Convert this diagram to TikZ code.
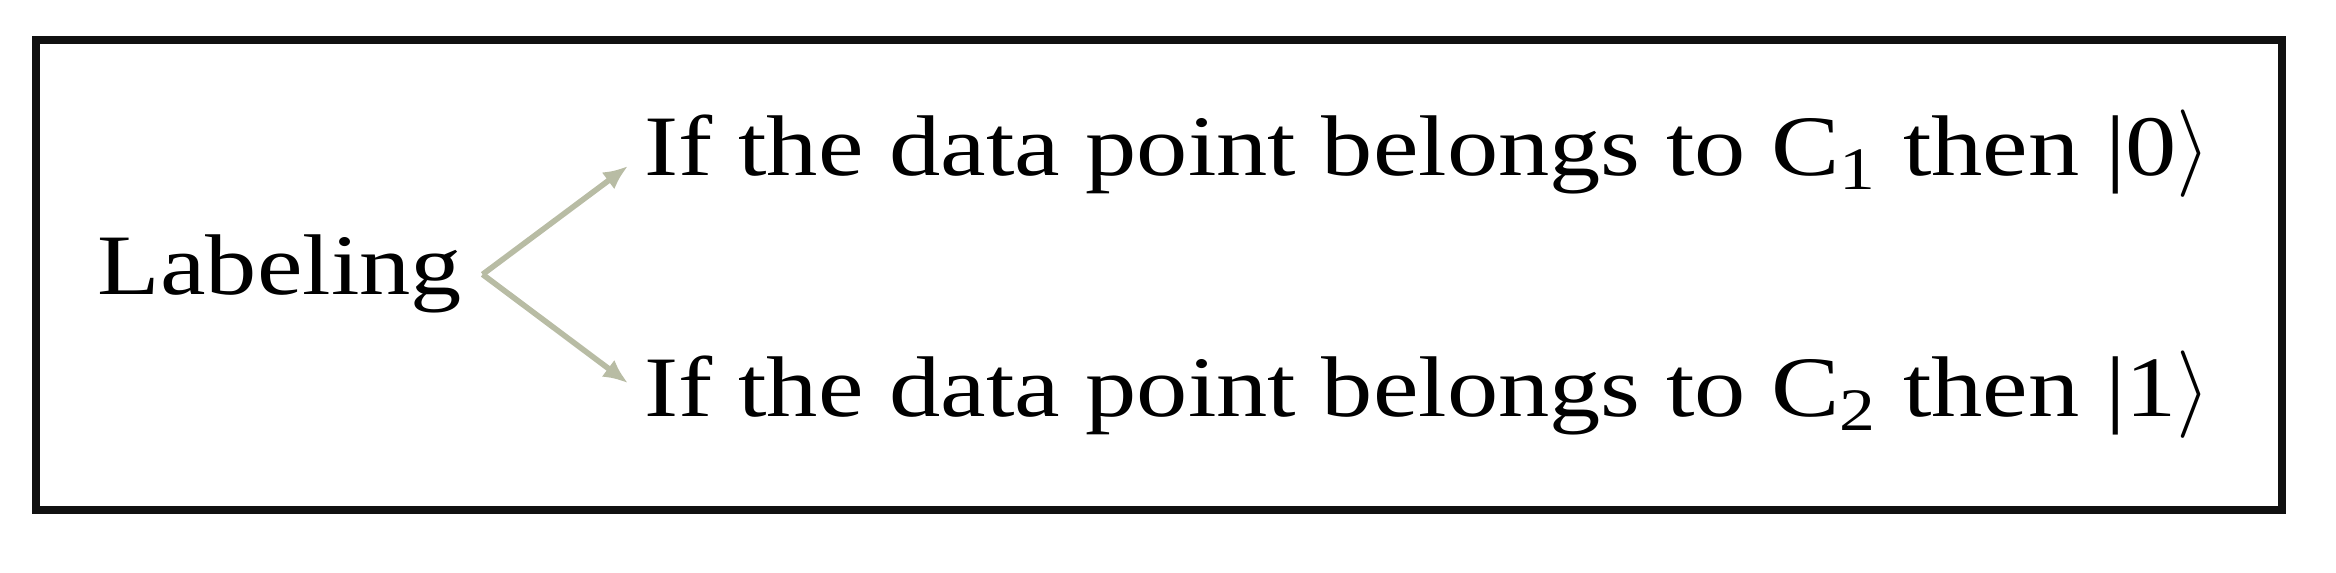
\documentclass[tikz,border=0pt]{standalone}
\usepackage{fontspec}
\setmainfont[FakeStretch=1.19]{Liberation Serif}
\usetikzlibrary{arrows.meta, positioning, calc}
\definecolor{frameBlack}{HTML}{111111}
\definecolor{branchGray}{HTML}{B8BCA4}
\newcommand{\KetState}[1]{\textbar#1$\rangle$}

\begin{document}
\begin{tikzpicture}[x=1cm, y=1cm,
    every node/.style={inner sep=0pt, font=\fontsize{24.5}{27}\selectfont},
    branch/.style={-{Latex[length=7pt, width=6pt]}, line width=1.6pt, branchGray, shorten >=0.2cm}]
        \useasboundingbox (0,0) rectangle (23.36,5.73);

        % Frame
        \draw[frameBlack, line width=2.2pt] (0.36,0.63) rectangle (22.82,5.33);

        % Labels inside
        \node[anchor=base west] (lab) at (0.97,2.78) {Labeling};
        \node[anchor=base west] (caseA) at (6.44,3.97) {If the data point belongs to C\textsubscript{1} then \KetState{0}};
        \node[anchor=base west] (caseB) at (6.44,1.56) {If the data point belongs to C\textsubscript{2} then \KetState{1}};

        % Branches
        \coordinate (fork) at ([xshift=0.2cm]lab.east);
        \draw[branch] (fork) -- (caseA.west);
        \draw[branch] (fork) -- (caseB.west);
    \end{tikzpicture}
\end{document}
